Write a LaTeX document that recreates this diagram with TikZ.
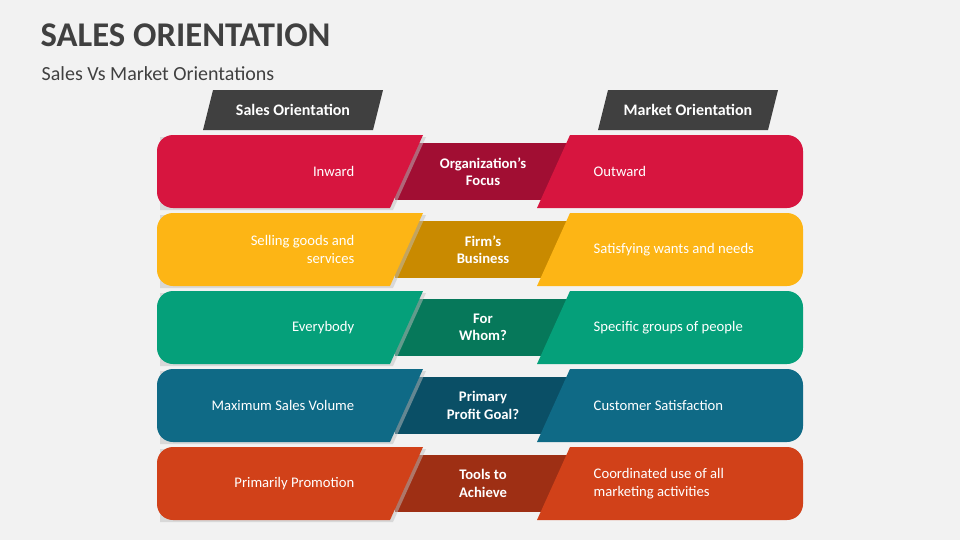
\documentclass[tikz,border=0pt]{standalone}
\usepackage{fontspec}
\setmainfont{Carlito}
\definecolor{bg}{HTML}{F2F2F2}
\definecolor{hdr}{HTML}{404040}
\definecolor{cA}{HTML}{D7153F}\definecolor{dA}{HTML}{A10E33}
\definecolor{cB}{HTML}{FDB515}\definecolor{dB}{HTML}{C98A00}
\definecolor{cC}{HTML}{05A07A}\definecolor{dC}{HTML}{06785A}
\definecolor{cD}{HTML}{0F6A86}\definecolor{dD}{HTML}{0A4F66}
\definecolor{cE}{HTML}{D14119}\definecolor{dE}{HTML}{9E2F14}
\tikzset{
  lt/.style={text=white,font=\fontsize{11}{13}\selectfont,align=right,anchor=east},
  rt/.style={text=white,font=\fontsize{11}{13}\selectfont,align=left,anchor=west},
  mt/.style={text=white,font=\bfseries\fontsize{11}{13}\selectfont,align=center},
  ht/.style={text=white,font=\bfseries\fontsize{12}{14}\selectfont}
}
\begin{document}
\begin{tikzpicture}[x=0.75pt,y=-0.75pt]
\fill[bg] (0,0) rectangle (960,540);
\useasboundingbox (0,0) rectangle (960,540);

% title
\node[anchor=west,text=hdr,font=\bfseries\fontsize{26}{30}\selectfont] (title) at (36,35) {SALES ORIENTATION};
\node[anchor=west,text=hdr,font=\fontsize{15}{18}\selectfont] (sub) at (37,74) {Sales Vs Market Orientations};

% headers
\fill[hdr] (213,90) -- (383,90) -- (373,130) -- (203,130) -- cycle;
\node[ht] (hs) at (293,110) {Sales Orientation};
\fill[hdr] (608,90) -- (778,90) -- (768,130) -- (598,130) -- cycle;
\node[ht] (hm) at (688,110) {Market Orientation};

% rows
\foreach \t/\c/\d/\l/\m/\r [count=\i] in {
  135/cA/dA/Inward/{Organization's\\Focus}/Outward,
  213/cB/dB/{Selling goods and\\services}/{Firm's\\Business}/Satisfying wants and needs,
  291/cC/dC/Everybody/{For\\Whom?}/Specific groups of people,
  369/cD/dD/Maximum Sales Volume/{Primary\\Profit Goal?}/Customer Satisfaction,
  447/cE/dE/Primarily Promotion/{Tools to\\Achieve}/{Coordinated use of all\\marketing activities}} {
  \pgfmathsetmacro{\b}{\t+73}
  \pgfmathsetmacro{\y}{\t+36.5}
  \fill[\d] (395,\t+8) rectangle (570,\b-8);
  \fill[black!25,opacity=0.5] (426,\t+2) -- (393,\b+2) -- (160,\b+2) -- (160,\t+2) -- cycle;
  \fill[\c] (423,\t) [rounded corners=12]-- (157,\t) -- (157,\b) [sharp corners]-- (390,\b) -- cycle;
  \fill[\c] (570,\t) [rounded corners=12]-- (803,\t) -- (803,\b) [sharp corners]-- (537,\b) -- cycle;
  \node[lt] (l\i) at (359,\y) {\l};
  \node[mt] (m\i) at (483,\y) {\m};
  \node[rt] (r\i) at (589,\y) {\r};
}
\end{tikzpicture}
\end{document}
